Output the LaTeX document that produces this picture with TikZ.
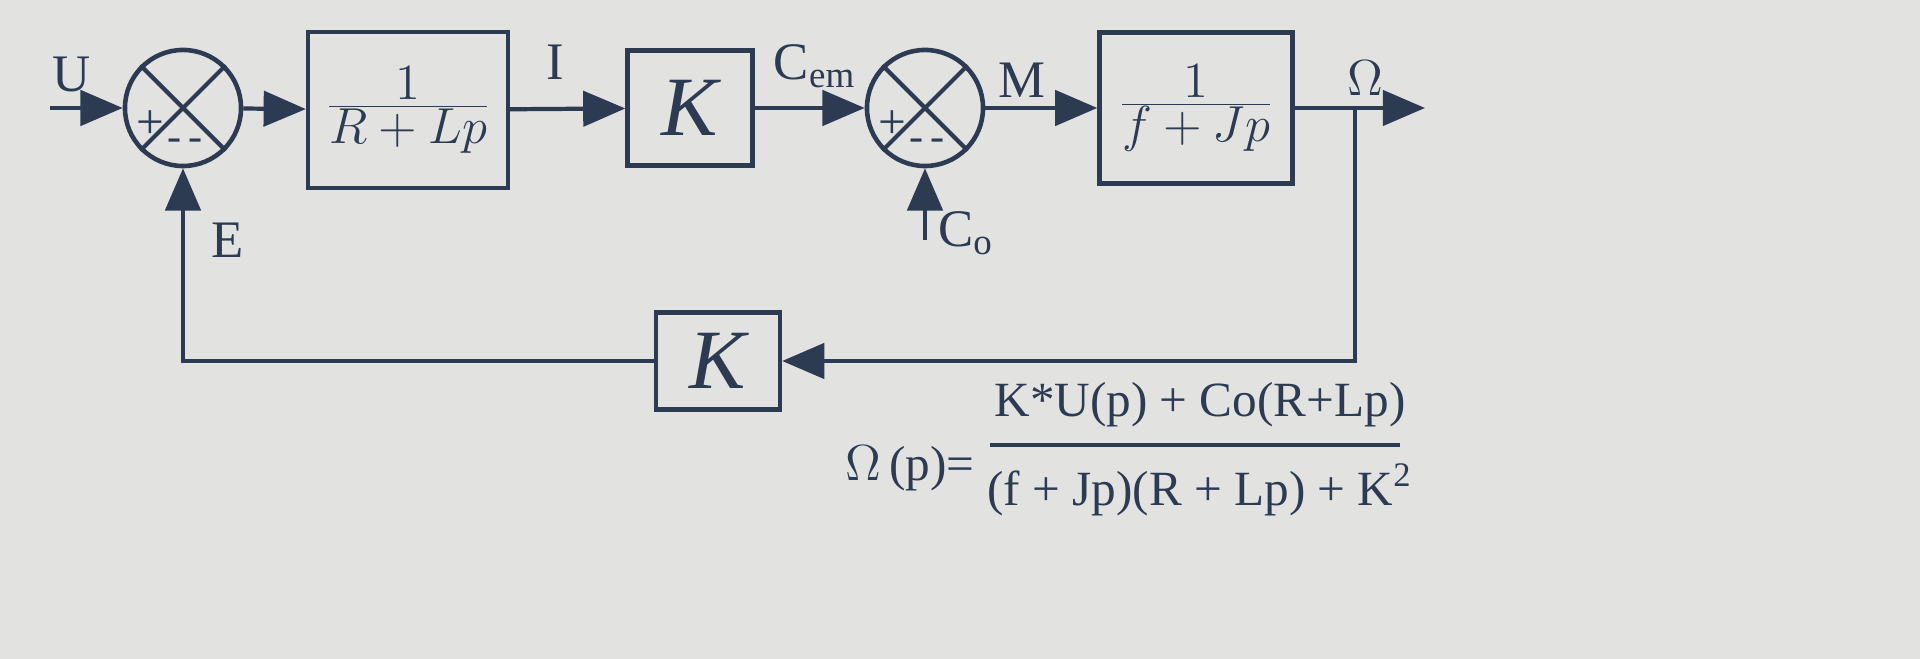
\documentclass[tikz,border=0pt]{standalone}
\usepackage{fontspec}
\setmainfont{Liberation Serif}
\usetikzlibrary{arrows.meta}
\definecolor{bg}{HTML}{E2E3E1}
\definecolor{ink}{HTML}{2C3A52}
\begin{document}
\begin{tikzpicture}[x=0.01cm,y=-0.01cm,
  line/.style={draw=ink,line width=1.2pt},
  arr/.style={line,-{Triangle[length=12pt,width=10pt]}},
  blk/.style={draw=ink,line width=1.2pt,inner sep=0pt},
  sumj/.style={draw=ink,line width=1.3pt,circle,minimum size=1.16cm,inner sep=0pt},
  lab/.style={text=ink,font=\fontsize{15}{16}\selectfont}]
\fill[bg] (0,0) rectangle (1920,659);
\useasboundingbox (0,0) rectangle (1920,659);
\node[sumj] (s1) at (183,108) {};
\draw[line] (s1.north west) -- (s1.south east) (s1.north east) -- (s1.south west);
\node[blk,minimum width=2cm,minimum height=1.56cm] (b1) at (408,110) {};
\node[text=ink,font=\fontsize{15}{16}\selectfont] at (b1) {$\frac{\textstyle 1}{\textstyle R+Lp}$};
\node[blk,minimum width=1.25cm,minimum height=1.15cm,text=ink,font=\fontsize{24}{26}\selectfont\itshape] (k1) at (690,108) {K};
\node[sumj] (s2) at (925,108) {};
\draw[line] (s2.north west) -- (s2.south east) (s2.north east) -- (s2.south west);
\node[blk,minimum width=1.93cm,minimum height=1.51cm] (b3) at (1196,108) {};
\node[text=ink,font=\fontsize{15}{16}\selectfont] at (b3) {$\frac{\textstyle 1}{\textstyle f+Jp}$};
\node[blk,minimum width=1.24cm,minimum height=0.97cm,text=ink,font=\fontsize{24}{26}\selectfont\itshape] (k2) at (718,361) {K};
\coordinate (uin) at (50,108);
\coordinate (out) at (1425,108);
\coordinate (br) at (1355,108);
\coordinate (co) at (925,240);
\draw[arr] (uin) -- (s1);
\draw[arr] (s1) -- (b1);
\draw[arr] (b1) -- (k1);
\draw[arr] (k1) -- (s2);
\draw[arr] (s2) -- (b3);
\draw[arr] (b3) -- (out);
\draw[arr] (br) |- (k2);
\draw[arr] (k2) -| (s1);
\draw[arr] (co) -- (s2);
\node[lab,font=\fontsize{14}{14}\selectfont] at (150,125) {+};
\node[lab,font=\fontsize{12}{12}\selectfont] at (185,145) {-\,-};
\node[lab,font=\fontsize{14}{14}\selectfont] at (892,125) {+};
\node[lab,font=\fontsize{12}{12}\selectfont] at (927,145) {-\,-};
\node[lab] at (72,75) {U};
\node[lab] at (555,62) {I};
\node[lab] at (815,66) {C\textsubscript{em}};
\node[lab] at (1022,80) {M};
\node[lab] at (1365,78) {$\Omega$};
\node[lab] at (228,240) {E};
\node[lab] at (966,233) {C\textsubscript{o}};
\node[lab,font=\fontsize{14}{14}\selectfont] at (910,468) {$\Omega$\,(p)=};
\node[lab,font=\fontsize{14}{14}\selectfont] at (1200,405) {K*U(p) + Co(R+Lp)};
\draw[draw=ink,line width=1.2pt] (990,445) -- (1400,445);
\node[lab,font=\fontsize{14}{14}\selectfont] at (1200,490) {(f + Jp)(R + Lp) + K\textsuperscript{2}};
\end{tikzpicture}
\end{document}
